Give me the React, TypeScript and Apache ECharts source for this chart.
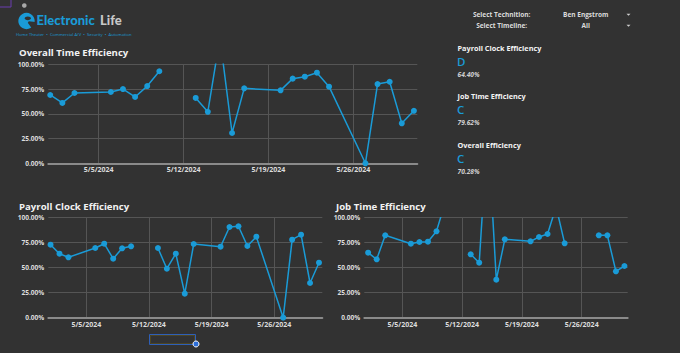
import React, { useEffect, useRef } from "react";
import * as echarts from "echarts";

const dates = [
  "5/1/2024", "5/2/2024", "5/3/2024", "5/6/2024", "5/7/2024", "5/8/2024", "5/9/2024", "5/10/2024",
  "5/11/2024", "5/13/2024", "5/14/2024", "5/15/2024", "5/16/2024", "5/17/2024", "5/20/2024",
  "5/21/2024", "5/22/2024", "5/23/2024", "5/24/2024", "5/27/2024", "5/28/2024", "5/29/2024",
  "5/30/2024", "5/31/2024",
];
const overallEff = [69, 61, 71, 72, 75, 67, 78, 93, null, 66, 52, 127, 30.6, 75.7, 73.7, 85.5, 87.5, 91.5, 77.4, 0, 80, 82.4, 40.4, 53];
const payrollEff = [73, 64, 60.4, 69.7, 74, 59, 69.4, 71.4, null, 69.7, 49, 64, 24, 73.7, 71, 90.7, 91.4, 71.7, 81, 0, 78, 83, 34.7, 55];
const jobEff = [65, 58.4, 82.4, 74, 75.7, 76, 86.4, 115, null, 63.4, 55, 190, 38, 78.4, 76.4, 80.7, 83.7, 111, 74.4, null, 82.4, 82.4, 46.4, 51.7];
const weekTicks = ["5/5/2024", "5/12/2024", "5/19/2024", "5/26/2024"];
const yTicks = [0, 25, 50, 75, 100];
const chartTitles = ["Overall Time Efficiency", "Payroll Clock Efficiency", "Job Time Efficiency"];
const kpiNames = ["Payroll Clock Efficiency", "Job Time Efficiency", "Overall Efficiency"];
const kpiGrades = ["D", "C", "C"];
const kpiValues = ["64.40%", "79.62%", "70.28%"];
const filterLabels = ["Select Technition:", "Select Timeline:"];
const filterValues = ["Ben Engstrom", "All"];

const BLUE = "#1a9bd7";
const BG = "#323232";
const FONT = "Open Sans";

function dayNum(s: string): number {
  const [m, d, y] = s.split("/").map(Number);
  return Math.round((Date.UTC(y, m - 1, d) - Date.UTC(2024, 3, 30)) / 86400000);
}

function seriesData(vals: (number | null)[]) {
  return dates.map((d, i) => [dayNum(d), vals[i] == null ? "-" : vals[i]]);
}

export default function App() {
  const ref = useRef<HTMLDivElement>(null);
  useEffect(() => {
    document.body.style.margin = "0";
    document.body.style.background = BG;
    const chart = echarts.init(ref.current!, null, { renderer: "svg" });
    const grids = [
      { left: 48.3, right: 262.7, top: 64.3, bottom: 189.7 },
      { left: 48.3, right: 357.7, top: 217.7, bottom: 35.3 },
      { left: 364.3, right: 52.3, top: 217.7, bottom: 35.3 },
    ];
    const xr = [
      [0.84, 31.28],
      [0.75, 31.37],
      [0.55, 31.38],
    ];
    const tickVals = weekTicks.map(dayNum);
    const xAxis = grids.map((g, i) => ({
      type: "value",
      gridIndex: i,
      min: xr[i][0],
      max: xr[i][1],
      axisLine: { show: true, lineStyle: { color: "#8a8a8a", width: 2 } },
      axisTick: { show: false, customValues: tickVals },
      splitLine: { show: true, lineStyle: { color: "#555555", width: 1 } },
      axisLabel: {
        customValues: tickVals,
        formatter: (v: number) => weekTicks[tickVals.indexOf(Math.round(v))] ?? "",
        color: "#dcdcdc",
        fontSize: 7,
        fontWeight: "bold",
        fontFamily: FONT,
        margin: 3,
      },
    }));
    const yAxis = grids.map((g, i) => ({
      type: "value",
      gridIndex: i,
      min: yTicks[0],
      max: yTicks[yTicks.length - 1],
      interval: 25,
      axisLine: { show: false },
      axisTick: { show: false },
      splitLine: { show: true, lineStyle: { color: "#555555", width: 1 } },
      axisLabel: {
        formatter: (v: number) => v.toFixed(2) + "%",
        color: "#dcdcdc",
        fontSize: 6.6,
        fontWeight: "bold",
        fontFamily: FONT,
        margin: 4,
      },
    }));
    const all = [overallEff, payrollEff, jobEff];
    const series = all.map((vals, i) => ({
      type: "line",
      xAxisIndex: i,
      yAxisIndex: i,
      data: seriesData(vals),
      color: BLUE,
      lineStyle: { color: BLUE, width: 1.5 },
      itemStyle: { color: BLUE },
      symbol: "circle",
      symbolSize: 6,
      showAllSymbol: true,
      connectNulls: false,
      clip: true,
    }));

    const txt = (text: string, x: number, y: number, size: number, fill: string, extra: any = {}) => ({
      type: "text",
      x,
      y,
      style: {
        text,
        fill,
        fontSize: size,
        fontFamily: extra.fontFamily || FONT,
        fontWeight: extra.fontWeight || "bold",
        fontStyle: extra.fontStyle || "normal",
        align: extra.align || "left",
        textAlign: extra.align || "left",
        verticalAlign: "middle",
        textVerticalAlign: "middle",
      },
    });

    const graphic: any[] = [
      { type: "polyline", shape: { points: [[11, 0], [11, 7], [0, 7]] }, style: { stroke: "#6a3db0", lineWidth: 1, fill: "none" } },
      { type: "circle", shape: { cx: 24.3, cy: 5.5, r: 2.3 }, style: { fill: "#a8a8a8" } },
      // "e" mark
      { type: "circle", shape: { cx: 26.5, cy: 21, r: 8.2 }, style: { fill: BLUE } },
      { type: "ellipse", shape: { cx: 27.8, cy: 18.3, rx: 3.2, ry: 1.9 }, style: { fill: BG } },
      { type: "sector", shape: { cx: 26.5, cy: 21, r0: 2.2, r: 9, startAngle: 0.12, endAngle: 0.95 }, style: { fill: BG } },
      txt("Electronic", 36.5, 19.5, 13, BLUE, { fontFamily: "Lato", fontWeight: 900 }),
      txt("Life", 100, 19.5, 13, "#c8c8c8", { fontFamily: "Lato", fontWeight: 900 }),
      txt("Home Theater  •  Commercial A/V  •  Security  •  Automation", 16, 34, 4.2, BLUE, { fontWeight: "normal" }),
      txt(chartTitles[0], 19, 52, 9.6, "#f2f2f2"),
      txt(chartTitles[1], 19, 206, 9.6, "#f2f2f2"),
      txt(chartTitles[2], 336, 206, 9.6, "#f2f2f2"),
    ];
    filterLabels.forEach((l, i) => {
      const y = 14.7 + i * 11;
      graphic.push(txt(l, 501.7, y, 6.5, "#dcdcdc", { align: "center" }));
      graphic.push(txt(filterValues[i], 585.7, y, 6.5, "#dcdcdc", { align: "center" }));
      graphic.push({ type: "polygon", shape: { points: [[626.5, y - 1], [630.5, y - 1], [628.5, y + 1]] }, style: { fill: "#cfcfcf" } });
    });
    kpiNames.forEach((n, i) => {
      const y0 = 47.7 + i * 48.5;
      graphic.push(txt(n, 457.5, y0, 7.3, "#f2f2f2"));
      graphic.push(txt(kpiGrades[i], 457, y0 + 13.5, 11.5, BLUE, { fontWeight: 600 }));
      graphic.push(txt(kpiValues[i], 457.5, y0 + 26.5, 6.6, "#cfcfcf", { fontStyle: "italic" }));
    });
    graphic.push({ type: "rect", shape: { x: 149.5, y: 334.5, width: 46, height: 10 }, style: { stroke: "#2e5fb8", fill: "none", lineWidth: 1 } });
    graphic.push({ type: "rect", shape: { x: 150.5, y: 335.5, width: 44, height: 8 }, style: { stroke: "#4d4522", fill: "none", lineWidth: 1 } });
    graphic.push({ type: "circle", shape: { cx: 196, cy: 344, r: 3 }, style: { fill: "#2d6ed8", stroke: "#ffffff", lineWidth: 1 } });

    chart.setOption({
      animation: false,
      backgroundColor: BG,
      grid: grids,
      xAxis,
      yAxis,
      series,
      graphic,
    });
    return () => chart.dispose();
  }, []);
  return <div ref={ref} style={{ position: "absolute", left: 0, top: 0, width: 680, height: 353 }} />;
}
